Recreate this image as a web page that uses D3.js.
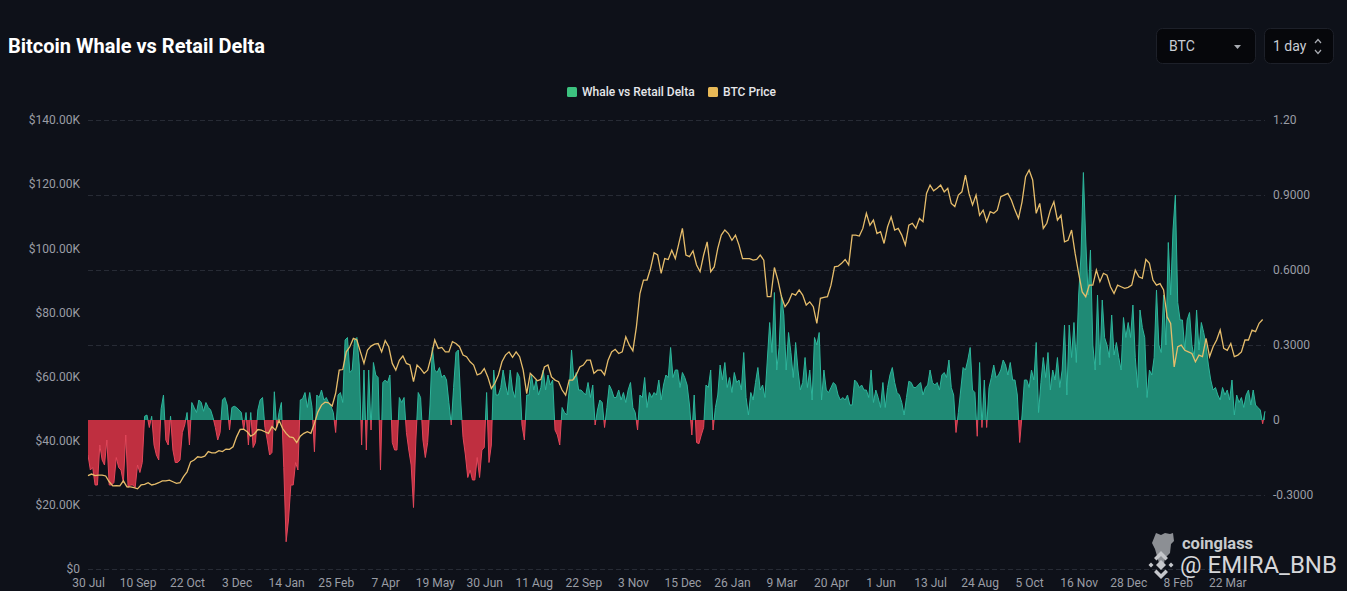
<!DOCTYPE html>
<html>
<head>
<meta charset="utf-8">
<script src="https://cdn.jsdelivr.net/npm/d3@7"></script>
<style>
  html, body { margin: 0; padding: 0; background: #0e1119; overflow: hidden; }
  text { font-family: Roboto, "Noto Sans", sans-serif; }
</style>
</head>
<body>
<script>
const width = 1347;
const height = 591;

// axis labels, x ticks are 42 days apart
const tickLabels = ["30 Jul", "10 Sep", "22 Oct", "3 Dec", "14 Jan", "25 Feb", "7 Apr", "19 May", "30 Jun", "11 Aug", "22 Sep", "3 Nov", "15 Dec", "26 Jan", "9 Mar", "20 Apr", "1 Jun", "13 Jul", "24 Aug", "5 Oct", "16 Nov", "28 Dec", "8 Feb", "22 Mar"];
const priceTicks = [0, 20, 40, 60, 80, 100, 120, 140];
const deltaTicks = [-0.3, 0, 0.3, 0.6, 0.9, 1.2];
const deltaTickLabels = ["-0.3000", "0", "0.3000", "0.6000", "0.9000", "1.20"];

const tickStepDays = 42;
const deltaStepDays = 2;
const priceStepDays = 3;
const lastDay = 998;

// whale vs retail delta, every 2 days
const deltaValues = [
  -0.14, -0.2, -0.19, -0.26, -0.26, -0.1, -0.16, -0.18, -0.08, -0.26, -0.26, -0.25, -0.15, -0.19, -0.2, -0.25, -0.06, -0.27, -0.26, -0.26, -0.27, -0.18, -0.21, -0.17,
  0.015, 0.02, -0.03, 0.015, -0.1, -0.14, -0.16, 0.045, 0.1, -0.08, -0.1, 0.015, -0.12, -0.17, -0.17, -0.16, -0.05, -0.02, 0.03, -0.1, 0.07, 0.05, 0.03, 0.08, 0.07, 0.035,
  0.07, 0.05, 0.04, 0.01, -0.03, -0.08, -0.05, 0.08, 0.09, 0.06, -0.04, 0.05, 0.055, 0.05, 0.04, 0.03, -0.04, 0.03, -0.1, 0.03, -0.11, -0.09, 0.04, 0.08, 0.09, -0.03,
  -0.08, -0.14, -0.13, 0.113, -0.03, 0.03, 0.07, -0.19, -0.487, -0.4, -0.26, -0.26, -0.17, -0.2, 0.08, 0.085, 0.11, 0.05, 0.11, 0.05, -0.127, 0.1, 0.09, 0.12,
  0.08, 0.09, 0.07, 0.055, 0.03, -0.05, 0.1, 0.11, 0.07, 0.32, 0.33, 0.19, 0.2, 0.32, 0.33, 0.22, -0.1, 0.2, -0.12, 0.2, -0.04, 0.23, 0.18, 0.17,
  -0.2, 0.15, 0.16, 0.15, 0.18, -0.09, -0.12, -0.12, 0.09, 0.07, 0.09, -0.05, -0.12, -0.18, -0.35, -0.08, 0.11, 0.09, -0.08, -0.15, -0.09, 0.06, 0.29, 0.2, 0.19, 0.21,
  0.17, 0.18, 0.16, 0.07, -0.02, 0.13, 0.27, 0.28, 0.08, -0.07, -0.14, -0.23, -0.2, -0.24, -0.24, -0.15, -0.23, -0.12, -0.11, 0.11, -0.17, -0.1, 0.2, 0.1, 0.1, 0.13,
  0.2, 0.14, 0.1, 0.2, 0.12, 0.09, 0.19, 0.17, -0.02, -0.08, 0.1, 0.1, 0.18, 0.12, 0.16, 0.1, 0.13, 0.2, 0.12, 0.18, 0.14, 0.16, -0.04, -0.06, -0.1, 0.05, 0.03, 0.02,
  0.12, 0.28, 0.16, 0.19, 0.12, 0.12, 0.11, 0.1, 0.15, 0.09, 0.14, -0.02, 0.04, 0.08, 0.07, -0.03, 0.05, 0.14, 0.12, 0.09, 0.09, 0.12, 0.08, 0.11, 0.07, 0.12, 0.15,
  0.05, 0.03, -0.04, 0.1, 0.09, 0.17, 0.05, 0.11, 0.09, 0.11, 0.1, 0.16, 0.08, 0.14, 0.18, 0.17, 0.29, 0.17, 0.2, 0.2, 0.13, 0.19, 0.17, 0.14, 0.06, -0.06, 0.1,
  -0.09, -0.095, -0.06, -0.03, 0.14, 0.13, 0.2, -0.04, 0.05, 0.1, 0.22, 0.16, 0.23, 0.13, 0.17, 0.11, 0.19, 0.15, 0.16, 0.12, 0.27, 0.09, 0.02, 0.11, 0.08, 0.15,
  0.21, 0.12, 0.14, 0.09, 0.24, 0.39, 0.27, 0.51, 0.2, 0.29, 0.5, 0.42, 0.2, 0.35, 0.27, 0.17, 0.31, 0.2, 0.12, 0.15, 0.25, 0.13, 0.2, 0.08, 0.33, 0.3, 0.35, 0.08,
  0.2, 0.12, 0.11, 0.13, 0.15, 0.14, 0.1, 0.08, 0.09, 0.08, 0.1, 0.06, 0.06, 0.16, 0.15, 0.13, 0.14, 0.12, 0.12, 0.09, 0.2, 0.07, 0.12, 0.09, 0.05, 0.15, 0.05, 0.13,
  0.18, 0.21, 0.15, 0.11, 0.1, 0.07, 0.02, 0.09, 0.155, 0.15, 0.13, 0.13, 0.14, 0.15, 0.1, 0.13, 0.14, 0.2, 0.15, 0.14, 0.15, 0.12, 0.18, 0.19, 0.17, 0.24, 0.13, 0.1,
  -0.05, 0.03, 0.12, 0.21, 0.2, 0.24, 0.29, 0.12, 0.11, -0.065, 0.23, -0.03, 0.16, -0.03, 0.13, 0.17, 0.22, 0.17, 0.18, 0.2, 0.24, 0.22, 0.18, 0.23, 0.16, 0.16, 0.1,
  -0.09, 0.02, 0.16, 0.16, 0.13, 0.2, 0.16, 0.31, 0.03, 0.15, 0.25, 0.17, 0.27, 0.12, 0.2, 0.16, 0.25, 0.13, 0.2, 0.38, 0.1, 0.38, 0.25, 0.39, 0.23, 0.5, 0.66, 0.99,
  0.72, 0.5, 0.68, 0.3, 0.2, 0.5, 0.22, 0.48, 0.33, 0.3, 0.25, 0.42, 0.26, 0.31, 0.25, 0.2, 0.41, 0.33, 0.39, 0.33, 0.46, 0.25, 0.13, 0.44, 0.37, 0.33, 0.09, 0.2,
  0.18, 0.25, 0.52, 0.3, 0.27, 0.5, 0.3, 0.71, 0.5, 0.76, 0.9, 0.47, 0.4, 0.4, 0.28, 0.4, 0.43, 0.3, 0.25, 0.44, 0.28, 0.39, 0.35, 0.3, 0.22, 0.16, 0.12, 0.13,
  0.1, 0.08, 0.13, 0.1, 0.12, 0.08, 0.16, 0.02, 0.1, 0.07, 0.09, 0.05, 0.1, 0.12, 0.06, 0.12, 0.06, 0.05, 0.04, -0.015, 0.035
];

// btc price in $K, every 3 days
const priceValues = [
  29.1, 29.6, 29.1, 29.3, 29.3, 29.0, 27.2, 25.9, 26.0, 25.9, 27.5, 25.6, 25.6, 25.4, 25.0, 26.2, 26.4, 26.9, 26.2, 26.5, 26.9, 27.5, 27.5, 27.7, 27.2, 26.7, 26.9, 28.8,
  30.3, 33.4, 34.0, 35.0, 34.8, 35.2, 36.6, 36.2, 36.2, 36.9, 36.6, 37.4, 37.3, 38.1, 41.2, 43.5, 43.6, 42.8, 41.4, 42.1, 43.5, 43.3, 42.8, 42.3, 44.4, 43.3, 46.4, 43.8,
  42.3, 41.2, 41.0, 39.4, 41.4, 42.3, 42.8, 42.3, 45.4, 49.0, 51.1, 52.0, 51.8, 50.8, 54.8, 62.0, 62.2, 67.7, 69.3, 71.9, 71.4, 67.7, 64.1, 68.3, 69.5, 70.1, 70.3,
  67.7, 71.2, 69.3, 64.1, 62.0, 65.1, 66.4, 64.1, 63.6, 58.4, 63.6, 62.5, 61.0, 62.0, 66.2, 71.4, 68.8, 69.1, 67.7, 67.7, 70.9, 70.3, 69.3, 66.7, 66.2, 64.6, 63.6, 60.5,
  61.0, 62.5, 59.9, 56.3, 57.9, 60.5, 64.6, 66.7, 67.7, 66.0, 67.7, 66.2, 62.0, 54.7, 61.0, 59.9, 58.7, 59.1, 63.0, 63.6, 59.9, 58.9, 58.4, 55.8, 54.2, 58.9, 58.9, 60.5,
  63.0, 63.6, 65.1, 65.1, 61.0, 62.0, 62.0, 60.5, 65.1, 67.7, 68.5, 67.2, 67.7, 72.4, 69.8, 68.0, 75.5, 85.9, 90.1, 90.1, 93.7, 98.6, 97.9, 92.2, 96.8, 96.5, 99.4, 96.8, 101.5,
  106.2, 97.9, 97.4, 99.2, 94.8, 92.7, 97.9, 102.0, 92.7, 94.2, 100, 104.1, 105.7, 104.6, 102.5, 104.1, 101, 96.8, 96.8, 96.8, 96.3, 96.5, 97.9, 96.3, 84.9, 84.9, 94, 90.1,
  84.9, 81.8, 83.3, 85.9, 85.4, 87, 85.4, 82.3, 83.3, 81.8, 76.6, 84.4, 84.7, 84.9, 88.5, 94.2, 94.4, 95.3, 96.5, 94.8, 104.1, 104.1, 103.8, 106.2, 110.9, 107.2, 108.8, 104.6,
  105.2, 101.5, 106.7, 109.8, 105.7, 106.2, 104.1, 101, 107.2, 107.8, 106.2, 109.3, 108.3, 117.1, 119.7, 117.9, 118.7, 119.7, 117.6, 118.7, 114, 113, 116.6, 117.6, 122.8,
  117.1, 113.5, 116.6, 110.3, 111.9, 108.3, 111.4, 110.9, 111.9, 116.1, 116.6, 117.1, 115, 111.9, 109.3, 114.5, 122.3, 124.4, 121.3, 110.9, 114, 106.2, 107.8, 111.9, 114.5,
  108.8, 110.3, 102, 102.5, 105.7, 98.4, 92.2, 86.4, 84.9, 88.5, 88.5, 93.2, 89.6, 92.2, 91.6, 88, 85.9, 88.5, 88, 87.5, 87.8, 88.5, 93.2, 91.1, 90.6, 96.5, 95.3, 90.1,
  88.5, 89, 87, 78.6, 76.6, 63.0, 69.3, 69.8, 68.2, 67.7, 67.2, 64.6, 66.7, 66.2, 71.9, 66.2, 69.3, 71.4, 74.5, 68.8, 68.2, 70.3, 66.2, 66.7, 67.7, 71.4, 71.4, 74.5, 74, 76.6, 77.8
];

const x = d3.scaleLinear().domain([0, lastDay]).range([88, 1265]);
const yPrice = d3.scaleLinear().domain([0, 140]).range([569, 120]);
const yDelta = d3.scaleLinear().domain([-0.3, 1.2]).range([495, 120]);

const svg = d3
  .select("body")
  .append("svg")
  .attr("width", width)
  .attr("height", height)
  .style("display", "block");

svg.append("rect").attr("width", width).attr("height", height).attr("fill", "#0e1119");

// header
svg
  .append("text")
  .attr("x", 8)
  .attr("y", 53)
  .attr("fill", "#ffffff")
  .attr("font-size", 20)
  .attr("font-weight", 700)
  .text("Bitcoin Whale vs Retail Delta");

const boxes = [
  { x: 1156.5, w: 99, label: "BTC", tx: 1169 },
  { x: 1264.5, w: 69, label: "1 day", tx: 1273 }
];
boxes.forEach(function (b) {
  svg
    .append("rect")
    .attr("x", b.x)
    .attr("y", 28.5)
    .attr("width", b.w)
    .attr("height", 35)
    .attr("rx", 6)
    .attr("fill", "#06070b")
    .attr("stroke", "#1d2029");
  svg
    .append("text")
    .attr("x", b.tx)
    .attr("y", 51)
    .attr("fill", "#c9ccd3")
    .attr("font-size", 14)
    .text(b.label);
});
svg.append("path").attr("d", "M1234 45h7l-3.5 4z").attr("fill", "#a8abb2");
svg
  .append("path")
  .attr("d", "M1315 43l3-3.5 3 3.5M1315 50l3 3.5 3-3.5")
  .attr("fill", "none")
  .attr("stroke", "#a8abb2")
  .attr("stroke-width", 1.2);

// legend
const legendItems = [
  { x: 567, label: "Whale vs Retail Delta", color: "#3cc27f" },
  { x: 708, label: "BTC Price", color: "#e8b957" }
];
legendItems.forEach(function (d) {
  svg.append("rect").attr("x", d.x).attr("y", 87).attr("width", 10).attr("height", 10).attr("rx", 1.5).attr("fill", d.color);
  svg
    .append("text")
    .attr("x", d.x + 15)
    .attr("y", 96)
    .attr("fill", "#e6e7ea")
    .attr("font-size", 12)
    .attr("font-weight", 500)
    .text(d.label);
});

// grid follows the right axis, with one more along the bottom
svg
  .append("g")
  .selectAll("line")
  .data(deltaTicks.filter((d) => d !== 0).map((d) => yDelta(d)).concat([yPrice(0)]))
  .enter()
  .append("line")
  .attr("x1", 88)
  .attr("x2", 1265)
  .attr("y1", (d) => d + 0.5)
  .attr("y2", (d) => d + 0.5)
  .attr("stroke", "#272b35")
  .attr("stroke-dasharray", "5 3");

// axes
const axisColor = "#9a9da5";

const axisLeft = d3.axisLeft(yPrice).tickValues(priceTicks).tickSize(0).tickPadding(8)
  .tickFormat((d) => (d === 0 ? "$0" : "$" + d + ".00K"));
const axisRight = d3.axisRight(yDelta).tickValues(deltaTicks).tickSize(0).tickPadding(8)
  .tickFormat((d, i) => deltaTickLabels[i]);
const axisBottom = d3.axisBottom(x).tickValues(tickLabels.map((d, i) => i * tickStepDays)).tickSize(0).tickPadding(9)
  .tickFormat((d, i) => tickLabels[i]);

[
  svg.append("g").attr("transform", "translate(88,0)").call(axisLeft),
  svg.append("g").attr("transform", "translate(1265,0)").call(axisRight),
  svg.append("g").attr("transform", "translate(0,569)").call(axisBottom)
].forEach(function (g) {
  g.select(".domain").remove();
  g.selectAll("text").attr("fill", axisColor).attr("font-size", 12);
});

// delta area, split at zero with two clips
const defs = svg.append("defs");
defs.append("clipPath").attr("id", "above")
  .append("rect").attr("x", 88).attr("y", 100).attr("width", 1178).attr("height", yDelta(0) - 100);
defs.append("clipPath").attr("id", "below")
  .append("rect").attr("x", 88).attr("y", yDelta(0)).attr("width", 1178).attr("height", 160);

const deltaArea = d3.area()
  .x((d, i) => x(i * deltaStepDays))
  .y0(yDelta(0))
  .y1((d) => yDelta(d));
const deltaLine = d3.line()
  .x((d, i) => x(i * deltaStepDays))
  .y((d) => yDelta(d));

[
  { clip: "above", fill: "#1f8a75", stroke: "#2db59b" },
  { clip: "below", fill: "#bf2f40", stroke: "#e2475a" }
].forEach(function (s) {
  const g = svg.append("g").attr("clip-path", "url(#" + s.clip + ")");
  g.append("path").datum(deltaValues).attr("d", deltaArea).attr("fill", s.fill);
  g.append("path").datum(deltaValues).attr("d", deltaLine).attr("fill", "none").attr("stroke", s.stroke).attr("stroke-width", 1);
});

// price line
const priceLine = d3.line()
  .x((d, i) => x(i * priceStepDays))
  .y((d) => yPrice(d));

svg
  .append("path")
  .datum(priceValues)
  .attr("d", priceLine)
  .attr("fill", "none")
  .attr("stroke", "#e6bd6b")
  .attr("stroke-width", 1.3);

// watermark
svg.append("path")
  .attr("d", "M1156 533l5 2 4-2 5 1 3-1 1 8-3 3-1 9-5 5-1 6-5-1-2-7-2-7-3-6z")
  .attr("fill", "#8c8f94");
const diamond = svg.append("g").attr("fill", "#c4c6ca");
[[1161, 565, 5], [1151, 565, 2.5], [1171, 565, 2.5]].forEach(function (d) {
  diamond.append("path").attr("d", `M${d[0]} ${d[1] - d[2]}l${d[2]} ${d[2]} -${d[2]} ${d[2]} -${d[2]} -${d[2]}z`);
});
diamond.append("path").attr("d", "M1161 551l7 7-2.5 2.5-4.5-4.5-4.5 4.5-2.5-2.5zM1161 579l7-7-2.5-2.5-4.5 4.5-4.5-4.5-2.5 2.5z");

svg.append("text").attr("x", 1182).attr("y", 549).attr("fill", "#c8cacd").attr("font-size", 16.5).attr("font-weight", 700).text("coinglass");
svg.append("text").attr("x", 1180).attr("y", 573).attr("fill", "#d6d7da").attr("font-size", 24).text("@ EMIRA_BNB");
</script>
</body>
</html>
